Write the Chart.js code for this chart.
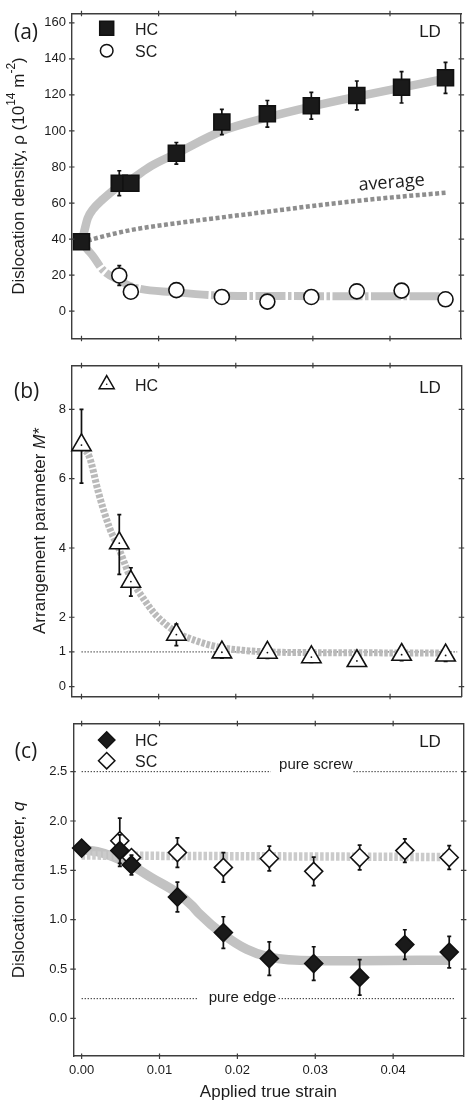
<!DOCTYPE html>
<html>
<head>
<meta charset="utf-8">
<script src="https://cdn.jsdelivr.net/npm/chart.js@4.4.1/dist/chart.umd.min.js"></script>
<style>
  html, body { margin: 0; padding: 0; background: #fff; }
  #wrap { position: relative; width: 474px; height: 1103px; }
  .panel { position: absolute; left: 0; width: 474px; }
</style>
</head>
<body>
<div id="wrap">
  <div class="panel" style="top:0;height:352px"><canvas id="chartA"></canvas></div>
  <div class="panel" style="top:352px;height:358px"><canvas id="chartB"></canvas></div>
  <div class="panel" style="top:710px;height:393px"><canvas id="chartC"></canvas></div>
</div>
<script>
// measured strain steps (shared by all three panels)
const strain = [0, 0.0049, 0.0064, 0.0123, 0.0182, 0.0241, 0.0298, 0.0357, 0.0415, 0.0472];
const strainTicks = [0, 0.01, 0.02, 0.03, 0.04];
const strainTickLabels = ['0.00', '0.01', '0.02', '0.03', '0.04'];
const strainTitle = 'Applied true strain';

// (a) dislocation density
const rhoHC = [38.5, 71, 71, 87.6, 105, 109.5, 114, 119.7, 124.2, 129.5];
const rhoHCErr = [0, 6.9, 0, 6, 7, 7.4, 7.4, 8, 8.7, 8.6];
const rhoSC = [null, 19.8, 10.8, 11.7, 7.9, 5.3, 7.9, 11, 11.4, 6.6];
const rhoSCErr = [0, 5.5, 0, 0, 0, 0, 0, 0, 0, 0];
const fitRhoHCx = [0, 0.0004, 0.0008, 0.0015, 0.00275, 0.0049, 0.0064, 0.009, 0.0123, 0.0182, 0.0241, 0.0298, 0.0357, 0.0415, 0.0472];
const fitRhoHCy = [38, 45, 51.5, 56.5, 62, 69.5, 73, 80.5, 87.5, 100, 107.5, 113.5, 119, 124, 129];
const fitRhoSCx = [0, 0.0008, 0.0015, 0.00275, 0.0047, 0.007, 0.0121, 0.0171, 0.024, 0.0472];
const fitRhoSCy = [38, 34, 30.5, 23, 17.5, 13, 10.5, 8.8, 8.4, 8.3];
const avgX = [0, 0.0015, 0.0064, 0.0123, 0.0176, 0.0241, 0.0298, 0.0357, 0.0415, 0.0472];
const avgY = [38, 40, 45, 48.8, 51.7, 55.2, 58.3, 61.2, 63.6, 65.7];
const rhoTicks = [0, 20, 40, 60, 80, 100, 120, 140, 160];
const rhoTickLabels = ['0', '20', '40', '60', '80', '100', '120', '140', '160'];

// (b) arrangement parameter
const mStar = [6.97, 4.14, 3.03, 1.5, 0.99, 0.98, 0.85, 0.74, 0.92, 0.9];
const mErrHi = [1.03, 0.82, 0.4, 0.3, 0.17, 0.17, 0.15, 0.15, 0.17, 0.17];
const mErrLo = [1.1, 0.9, 0.42, 0.32, 0.17, 0.17, 0.15, 0.15, 0.17, 0.17];
const fitMx = [0, 0.001, 0.0022, 0.0036, 0.0049, 0.0064, 0.008, 0.0095, 0.0123, 0.015, 0.0182, 0.0212, 0.0241, 0.03, 0.0472];
const fitMy = [6.9, 6.64, 5.6, 4.6, 3.95, 3.12, 2.55, 2.1, 1.57, 1.31, 1.12, 1.04, 1.0, 0.98, 0.97];
const mRefX = [0, 0.0487];
const mRefY = [1, 1];
const mTicks = [0, 1, 2, 4, 6, 8];
const mTickLabels = ['0', '1', '2', '4', '6', '8'];
const mTicksRight = [0, 2, 4, 6, 8];

// (c) dislocation character
const qHC = [1.726, 1.70, 1.555, 1.23, 0.87, 0.606, 0.556, 0.415, 0.748, 0.672];
const qHCErr = [0, 0.16, 0.1, 0.15, 0.16, 0.17, 0.17, 0.18, 0.15, 0.16];
const qSC = [null, 1.80, 1.63, 1.68, 1.53, 1.62, 1.49, 1.63, 1.70, 1.63];
const qSCErr = [0, 0.23, 0.06, 0.15, 0.15, 0.125, 0.145, 0.125, 0.12, 0.12];
const fitqHCx = [0, 0.002, 0.004, 0.0064, 0.0091, 0.0123, 0.0142, 0.015, 0.0182, 0.0212, 0.0241, 0.0298, 0.0357, 0.0472];
const fitqHCy = [1.71, 1.69, 1.64, 1.55, 1.42, 1.27, 1.14, 1.07, 0.85, 0.70, 0.62, 0.585, 0.585, 0.59];
const fitqSCx = [0, 0.0472];
const fitqSCy = [1.65, 1.635];
const screwX1 = [0, 0.0243], screwX2 = [0.0349, 0.0483];
const edgeX1 = [0, 0.0149], edgeX2 = [0.0253, 0.0480];
const screwQ = 2.5, edgeQ = 0.2;
const qTicks = [0, 0.5, 1, 1.5, 2, 2.5];
const qTickLabels = ['0.0', '0.5', '1.0', '1.5', '2.0', '2.5'];

const FRAME = '#3d3d3d';
const INK = '#1c1c1c';
const SANS = "'Liberation Sans', Arial, sans-serif";
const CAL = "'Open Sans', sans-serif";

Chart.defaults.font.family = SANS;
Chart.defaults.color = INK;

function pts(xs, ys, hi, lo) {
  const out = [];
  xs.forEach((x, i) => {
    if (ys[i] == null) return;
    const h = hi ? hi[i] : 0;
    out.push({x: x, y: ys[i], hi: h, lo: lo ? lo[i] : h});
  });
  return out;
}

function fitLine(xs, ys, color, width, dash) {
  return {
    data: pts(xs, ys), showLine: true, pointRadius: 0, pointHoverRadius: 0,
    borderColor: color, borderWidth: width, borderDash: dash || [],
    borderCapStyle: 'butt', cubicInterpolationMode: 'monotone', order: 5, clip: false
  };
}

function refLine(xs, yv) {
  return {
    data: xs.map(x => ({x: x, y: yv})), showLine: true, pointRadius: 0, pointHoverRadius: 0,
    borderColor: '#222', borderWidth: 1, borderDash: [1.3, 1.7], order: 6, clip: false
  };
}

function markers(data, style, r, fill, order) {
  return {
    data: data, pointStyle: style, pointRadius: r, pointHoverRadius: r,
    pointBackgroundColor: fill, pointBorderColor: '#111', pointBorderWidth: 1.6,
    showLine: false, order: order, clip: false, errBars: true
  };
}

function drawMarker(ctx, style, r, x, y) {
  if (Chart.helpers && Chart.helpers.drawPoint) {
    Chart.helpers.drawPoint(ctx, {pointStyle: style, radius: r, rotation: 0, borderWidth: 1.5}, x, y);
    return;
  }
  ctx.beginPath();
  ctx.arc(x, y, r, 0, Math.PI * 2);
  ctx.fill(); ctx.stroke();
}

// error bars, crossing tick marks, legend, labels, y title
function makeDecor(c) {
  return {
    id: 'decor',
    beforeDatasetDraw(chart, args) {
      const ds = chart.data.datasets[args.index];
      if (!ds.errBars) return;
      const ctx = chart.ctx, xs = chart.scales.x, ys = chart.scales.y;
      ctx.save();
      ctx.strokeStyle = '#111';
      ctx.lineWidth = 1.7;
      ctx.beginPath();
      ds.data.forEach(p => {
        if (!p.hi && !p.lo) return;
        const px = xs.getPixelForValue(p.x);
        const top = ys.getPixelForValue(p.y + p.hi);
        const bot = ys.getPixelForValue(p.y - p.lo);
        ctx.moveTo(px, top); ctx.lineTo(px, bot);
        ctx.moveTo(px - 2, top); ctx.lineTo(px + 2, top);
        ctx.moveTo(px - 2, bot); ctx.lineTo(px + 2, bot);
      });
      ctx.stroke();
      ctx.restore();
    },
    afterDraw(chart) {
      const ctx = chart.ctx, a = chart.chartArea;
      const xs = chart.scales.x, ys = chart.scales.y;
      ctx.save();
      // tick marks crossing the frame
      ctx.strokeStyle = FRAME;
      ctx.lineWidth = 1.2;
      ctx.beginPath();
      strainTicks.forEach(v => {
        const p = xs.getPixelForValue(v);
        ctx.moveTo(p, a.top - 3); ctx.lineTo(p, a.top + 2.5);
        ctx.moveTo(p, a.bottom - 2.5); ctx.lineTo(p, a.bottom + 3);
      });
      c.yTicks.forEach(v => {
        const p = ys.getPixelForValue(v);
        ctx.moveTo(a.left - 3, p); ctx.lineTo(a.left + 2.5, p);
      });
      c.yTicksRight.forEach(v => {
        const p = ys.getPixelForValue(v);
        ctx.moveTo(a.right - 2.5, p); ctx.lineTo(a.right + 3, p);
      });
      ctx.stroke();

      // legend
      c.legend.forEach(it => {
        ctx.fillStyle = it.fill;
        ctx.strokeStyle = '#111';
        ctx.lineWidth = 1.5;
        drawMarker(ctx, it.style, it.r, it.x, it.y);
        if (it.dot) {
          ctx.fillStyle = '#111';
          ctx.beginPath(); ctx.arc(it.x, it.y, 0.8, 0, Math.PI * 2); ctx.fill();
        }
        ctx.fillStyle = INK;
        ctx.font = '16px ' + SANS;
        ctx.textAlign = 'left';
        ctx.textBaseline = 'alphabetic';
        ctx.fillText(it.label, it.tx, it.ty);
      });

      // free labels
      c.texts.forEach(t => {
        ctx.save();
        ctx.translate(t.x, t.y);
        if (t.rot) ctx.rotate(t.rot * Math.PI / 180);
        ctx.fillStyle = INK;
        ctx.font = t.font;
        ctx.textAlign = 'center';
        ctx.textBaseline = 'alphabetic';
        ctx.fillText(t.text, 0, 0);
        ctx.restore();
      });

      // rotated y title with super/italic parts
      const segs = c.yTitle.segs;
      const fontOf = s => (s.it ? 'italic ' : '') + (s.sup ? '12px ' : '17px ') + SANS;
      let total = 0;
      segs.forEach(s => { ctx.font = fontOf(s); s.w = ctx.measureText(s.t).width; total += s.w; });
      ctx.translate(c.yTitle.x, (a.top + a.bottom) / 2);
      ctx.rotate(-Math.PI / 2);
      ctx.fillStyle = INK;
      ctx.textAlign = 'left';
      ctx.textBaseline = 'alphabetic';
      let pos = -total / 2;
      segs.forEach(s => {
        ctx.font = fontOf(s);
        ctx.fillText(s.t, pos, s.sup ? -9 : 0);
        pos += s.w;
      });
      ctx.restore();
    }
  };
}

function makeScales(c) {
  const border = {display: true, color: FRAME, width: 1.4};
  const noGrid = {display: false, drawTicks: false};
  return {
    x: {
      type: 'linear', position: 'bottom', min: c.xMin, max: c.xMax,
      afterBuildTicks: s => { s.ticks = strainTicks.map(v => ({value: v})); },
      afterFit: s => { s.height = c.bottom; },
      grid: noGrid, border: border,
      ticks: {display: !!c.xLabels, autoSkip: false, maxRotation: 0, padding: 7,
              font: {size: 13}, callback: (v, i) => strainTickLabels[i]},
      title: {display: !!c.xLabels, text: strainTitle, font: {size: 17}, padding: {top: 0, bottom: 0}}
    },
    x2: {
      type: 'linear', position: 'top', min: c.xMin, max: c.xMax,
      afterFit: s => { s.height = c.top; },
      grid: noGrid, border: border, ticks: {display: false}
    },
    y: {
      type: 'linear', position: 'left', min: c.yMin, max: c.yMax,
      afterBuildTicks: s => { s.ticks = c.yTicks.map(v => ({value: v})); },
      afterFit: s => { s.width = c.left; },
      grid: noGrid, border: border,
      ticks: {padding: 6, font: {size: 13}, autoSkip: false, callback: (v, i) => c.yLabels[i]}
    },
    y2: {
      type: 'linear', position: 'right', min: c.yMin, max: c.yMax,
      afterFit: s => { s.width = 474 - c.right; },
      grid: noGrid, border: border, ticks: {display: false}
    }
  };
}

function build(id, c, datasets) {
  return new Chart(document.getElementById(id), {
    type: 'scatter',
    data: {datasets: datasets},
    options: {
      responsive: true, maintainAspectRatio: false, animation: false,
      events: [],
      layout: {padding: 0},
      plugins: {legend: {display: false}, tooltip: {enabled: false}},
      scales: makeScales(c)
    },
    plugins: [makeDecor(c)]
  });
}

// panel (a)
build('chartA', {
  xMin: -0.00123, xMax: 0.04922, yMin: -15, yMax: 165,
  left: 72, right: 469.3, top: 4, bottom: 5.3,
  yTicks: rhoTicks, yLabels: rhoTickLabels, yTicksRight: rhoTicks,
  legend: [
    {style: 'rect', r: 9.9, fill: '#1a1a1a', x: 106.7, y: 28.3, label: 'HC', tx: 135, ty: 34.5},
    {style: 'circle', r: 6.3, fill: '#fff', x: 106.7, y: 50.7, label: 'SC', tx: 135, ty: 56.5}
  ],
  texts: [
    {text: '(a)', x: 26, y: 39, font: '21px ' + CAL},
    {text: 'LD', x: 430, y: 36.7, font: '17px ' + SANS},
    {text: 'average', x: 392, y: 188, font: '18px ' + CAL, rot: -4.5}
  ],
  yTitle: {x: 23.5, segs: [
    {t: 'Dislocation density, '}, {t: 'ρ'}, {t: ' (10'}, {t: '14', sup: true},
    {t: ' m'}, {t: '-2', sup: true}, {t: ')'}
  ]}
}, [
  fitLine(fitRhoHCx, fitRhoHCy, '#c2c2c2', 8.5),
  fitLine(fitRhoSCx, fitRhoSCy, '#c2c2c2', 8, [30, 2.5, 3.5, 2.5]),
  fitLine(avgX, avgY, '#8e8e8e', 4.5, [4, 2.5]),
  markers(pts(strain, rhoSC, rhoSCErr), 'circle', 7.5, '#fff', 2),
  markers(pts(strain, rhoHC, rhoHCErr), 'rect', 11.3, '#1a1a1a', 1)
]);

// panel (b)
build('chartB', {
  xMin: -0.00123, xMax: 0.04922, yMin: -0.278, yMax: 9.258,
  left: 72, right: 469.3, top: 8.7, bottom: 6,
  yTicks: mTicks, yLabels: mTickLabels, yTicksRight: mTicksRight,
  legend: [
    {style: 'triangle', r: 8.7, fill: '#fff', dot: true, x: 106.7, y: 32.3, label: 'HC', tx: 135, ty: 39}
  ],
  texts: [
    {text: '(b)', x: 26.7, y: 46, font: '21px ' + CAL},
    {text: 'LD', x: 430, y: 40.7, font: '17px ' + SANS}
  ],
  yTitle: {x: 45, segs: [{t: 'Arrangement parameter '}, {t: 'M*', it: true}]}
}, [
  refLine(mRefX, 1),
  fitLine(fitMx, fitMy, '#bababa', 7, [3.5, 1.6]),
  markers(pts(strain, mStar, mErrHi, mErrLo), 'triangle', 11.2, '#fff', 1),
  {data: pts(strain, mStar), pointStyle: 'circle', pointRadius: 0.9, pointHoverRadius: 0.9,
   pointBackgroundColor: '#111', pointBorderWidth: 0, showLine: false, order: 0, clip: false}
]);

// panel (c)
build('chartC', {
  xMin: -0.00107, xMax: 0.04902, yMin: -0.381, yMax: 2.985,
  left: 73.3, right: 467.7, top: 6, bottom: 47, xLabels: true,
  yTicks: qTicks, yLabels: qTickLabels, yTicksRight: qTicks,
  legend: [
    {style: 'rectRot', r: 8.2, fill: '#1a1a1a', x: 106.7, y: 30, label: 'HC', tx: 135, ty: 35.7},
    {style: 'rectRot', r: 8.2, fill: '#fff', x: 106.7, y: 50.7, label: 'SC', tx: 135, ty: 56.7}
  ],
  texts: [
    {text: '(c)', x: 26, y: 48.3, font: '21px ' + CAL},
    {text: 'LD', x: 430, y: 36.7, font: '17px ' + SANS},
    {text: 'pure screw', x: 315.8, y: 59, font: '15px ' + SANS},
    {text: 'pure edge', x: 242.5, y: 292, font: '15px ' + SANS}
  ],
  yTitle: {x: 24.3, segs: [{t: 'Dislocation character, '}, {t: 'q', it: true}]}
}, [
  refLine(screwX1, screwQ), refLine(screwX2, screwQ),
  refLine(edgeX1, edgeQ), refLine(edgeX2, edgeQ),
  fitLine(fitqSCx, fitqSCy, '#cbcbcb', 8.5, [3.5, 1.8]),
  fitLine(fitqHCx, fitqHCy, '#c2c2c2', 9.5),
  markers(pts(strain, qSC, qSCErr), 'rectRot', 9, '#fff', 2),
  markers(pts(strain, qHC, qHCErr), 'rectRot', 9, '#1a1a1a', 1)
]);
</script>
</body>
</html>
